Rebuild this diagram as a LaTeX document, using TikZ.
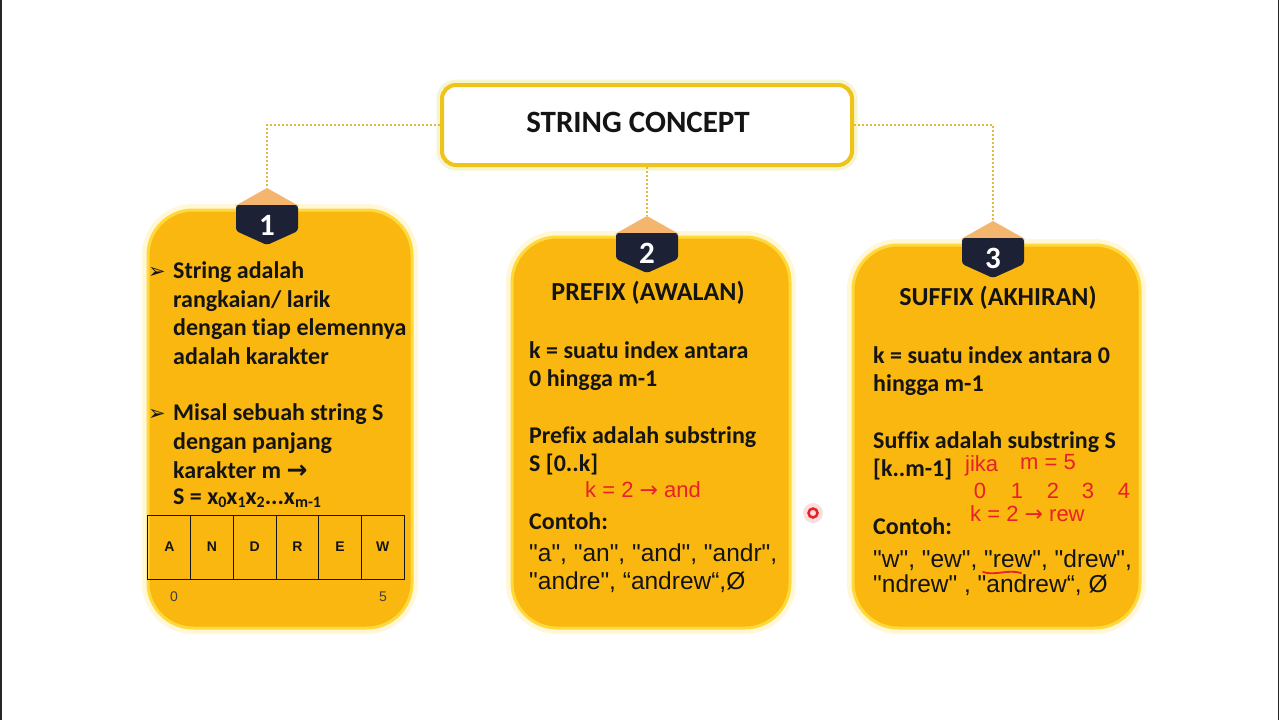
\documentclass[tikz,border=0pt]{standalone}
\usepackage{fontspec}
\setmainfont{Carlito}[Ligatures=NoCommon]
\newfontfamily\arialf{Liberation Sans}
\newfontfamily\dejaf{DejaVu Sans}
\definecolor{cardfill}{HTML}{F9B710}
\definecolor{cardedge}{HTML}{FFD83A}
\definecolor{glowc}{HTML}{FFEC9E}
\definecolor{navy}{HTML}{1C2136}
\definecolor{peach}{HTML}{F4B66E}
\definecolor{dotc}{HTML}{E3BA3A}
\definecolor{inkred}{HTML}{E8202A}
\definecolor{titleedge}{HTML}{F0C21C}
\definecolor{titleglow}{HTML}{EEF0B0}
\definecolor{txtc}{HTML}{141414}
\newcommand\mysub[1]{\raisebox{-0.3ex}{\fontsize{16}{16}\selectfont #1}}
\newcommand\mybadge[4]{%
  \coordinate (#1a) at (#2,#3);
  \fill[peach] (#2-32,#3+18) -- (#2,#3) -- (#2+32,#3+18) -- cycle;
  \fill[navy, rounded corners=3pt] (#2-31,#3+17) -- (#2+31,#3+17) -- (#2+31,#3+43) -- (#2,#3+57) -- (#2-31,#3+43) -- cycle;
  \node[badgenum] (#1) at (#2,#3+37) {#4};
}
\begin{document}
\begin{tikzpicture}[x=1pt,y=-1pt,
  card/.style={draw=cardedge, line width=3pt, fill=cardfill, rounded corners=45pt,
    preaction={draw=glowc, line width=12pt, opacity=.4}, inner sep=0pt},
  titlebox/.style={draw=titleedge, line width=4pt, fill=white, rounded corners=14pt,
    preaction={draw=titleglow, line width=11pt, opacity=.6}, inner sep=0pt,
    minimum width=410pt, minimum height=80pt},
  conn/.style={draw=dotc, line width=2pt, dotted},
  badgenum/.style={text=white, font=\bfseries\fontsize{31}{31}\selectfont, inner sep=0pt},
  txt/.style={anchor=base west, inner sep=0pt, text=txtc, font=\bfseries\fontsize{24}{29}\selectfont},
  head/.style={inner sep=0pt, text=txtc, font=\bfseries\fontsize{26}{29}\selectfont},
  atxt/.style={anchor=base west, inner sep=0pt, text=txtc, font=\arialf\fontsize{24.5}{29}\selectfont},
  bul/.style={anchor=base west, inner sep=0pt, text=txtc, font=\dejaf\fontsize{21}{21}\selectfont},
  cell/.style={draw=txtc, line width=1pt, minimum width=42.67pt, minimum height=64pt, inner sep=0pt,
    text=txtc, font=\arialf\bfseries\fontsize{14}{14}\selectfont},
  idx/.style={inner sep=0pt, text=black!75, font=\arialf\fontsize{14}{14}\selectfont},
  hand/.style={anchor=base west, inner sep=0pt, text=inkred, font=\arialf\fontsize{22}{22}\selectfont},
  handc/.style={inner sep=0pt, text=inkred, font=\arialf\fontsize{22}{22}\selectfont}
]
\useasboundingbox (0,0) rectangle (1280,720);
\fill[white] (0,0) rectangle (1280,720);
\draw[black!85, line width=1.5pt] (0.75,0) -- (0.75,720);
\draw[black!85, line width=1.5pt] (1278.5,0) -- (1278.5,720);

% title
\node[titlebox] (title) at (647,125) {};
\node[inner sep=0pt, text=txtc, font=\bfseries\fontsize{31}{31}\selectfont] (titletext) at (638,122) {STRING CONCEPT};

% cards
\node[card, minimum width=264pt, minimum height=418pt] (box1) at (280,419) {};
\node[card, minimum width=278pt, minimum height=391pt] (box2) at (651,432.5) {};
\node[card, minimum width=287pt, minimum height=383pt] (box3) at (996.5,436.5) {};

% connectors
\coordinate (c1) at (267,125);
\coordinate (c3) at (993,125);
\coordinate (c2) at (647,216);
\draw[conn] (title.west) -- (c1) -- (267,188);
\draw[conn] (title.east) -- (c3) -- (993,221);
\draw[conn] (title.south) -- (c2);

% badges
\mybadge{n1}{267}{188}{1}
\mybadge{n2}{647}{216}{2}
\mybadge{n3}{993}{221}{3}

% box 1 text
\node[bul] (bu1) at (148,278) {➢};
\node[txt] (t1a) at (173,278) {String adalah};
\node[txt] (t1b) at (173,307) {rangkaian/ larik};
\node[txt] (t1c) at (173,335) {dengan tiap elemennya};
\node[txt] (t1d) at (173,364) {adalah karakter};
\node[bul] (bu2) at (148,420) {➢};
\node[txt] (t1e) at (173,420) {Misal sebuah string S};
\node[txt] (t1f) at (173,449) {dengan panjang};
\node[txt] (t1g) at (173,478) {karakter m {\dejaf\fontsize{25}{25}\selectfont →}};
\node[txt] (t1h) at (173,504) {S = x\mysub{0}x\mysub{1}x\mysub{2}...x\mysub{m-1}};

% table
\foreach \i/\l in {0/A,1/N,2/D,3/R,4/E,5/W}{
  \node[cell] (cell\i) at ({169.33+\i*42.67},547) {\l};
}
\node[idx] (i0) at (174,597) {0};
\node[idx] (i5) at (383,597) {5};

% box 2 text
\node[head] (h2) at (648,293) {PREFIX (AWALAN)};
\node[txt] (t2a) at (529,358) {k = suatu index antara};
\node[txt] (t2b) at (529,386) {0 hingga m-1};
\node[txt] (t2c) at (529,443) {Prefix adalah substring};
\node[txt] (t2d) at (529,471) {S [0..k]};
\node[hand] (r2) at (585,497) {k = 2 {\dejaf →} and};
\node[txt] (t2e) at (529,529) {Contoh:};
\node[atxt] (t2f) at (529,561) {"a", "an", "and", "andr",};
\node[atxt] (t2g) at (529,589) {"andre", “andrew“,Ø};

% box 3 text
\node[head] (h3) at (998,298) {SUFFIX (AKHIRAN)};
\node[txt] (t3a) at (873,363) {k = suatu index antara 0};
\node[txt] (t3b) at (873,391) {hingga m-1};
\node[txt] (t3c) at (873,448) {Suffix adalah substring S};
\node[txt] (t3d) at (873,476) {[k..m-1]};
\node[hand] (r3a) at (965,471) {jika};
\node[hand] (r3b) at (1020,469) {m = 5};
\foreach \j/\xx in {0/980,1/1017,2/1053,3/1088,4/1124}{
  \node[handc] (d\j) at (\xx,491) {\j};
}
\node[hand] (r3c) at (970,521) {k = 2 {\dejaf →} rew};
\node[txt] (t3e) at (873,534) {Contoh:};
\node[atxt] (t3f) at (873,567) {"w", "ew", "rew", "drew",};
\node[atxt] (t3g) at (873,592) {"ndrew" , "andrew“, Ø};
\draw[inkred, line width=1.8pt, line cap=round] (983,572) .. controls (995,576) and (1008,569) .. (1021,573);

% red pointer dot
\node[circle, fill=inkred!15, minimum size=20pt, inner sep=0pt] (dotglow) at (813,513) {};
\node[circle, draw=inkred, line width=2.5pt, minimum size=9pt, inner sep=0pt] (dot) at (813,513) {};
\end{tikzpicture}
\end{document}
